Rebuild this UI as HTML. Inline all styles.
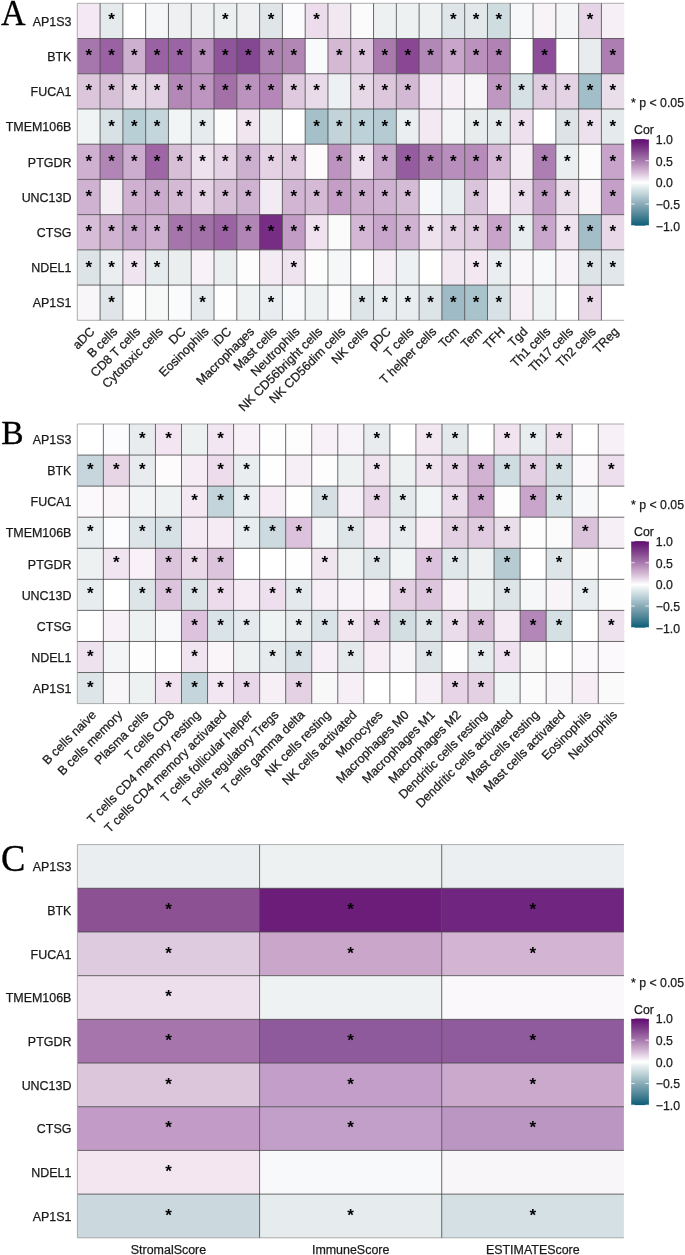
<!DOCTYPE html>
<html><head><meta charset="utf-8"><style>
html,body{margin:0;padding:0;background:#fff;}
body{width:685px;height:1255px;overflow:hidden;}
svg{display:block;will-change:transform;}
text{font-family:'Liberation Sans', sans-serif;fill:#1a1a1a;stroke:#1a1a1a;stroke-width:0.25px;}
.rl{font-size:12.45px;text-anchor:end;}
.cl{font-size:12.5px;text-anchor:end;}
.cc{font-size:12.45px;text-anchor:middle;}
.lg{font-size:12.3px;}
.st{font-size:17px;font-weight:bold;text-anchor:middle;fill:#000;stroke:none;}
.pl{font-family:'Liberation Serif', serif;font-size:34px;fill:#000;stroke:#000;stroke-width:0.3px;}
line{stroke:#444444;stroke-width:0.8;}
line.top{stroke:#9a9a9a;}
line.tk{stroke:#fff;stroke-width:0.8;}
</style></head><body>
<svg width="685" height="1255" viewBox="0 0 685 1255">
<defs><linearGradient id="cb" x1="0" y1="0" x2="0" y2="1"><stop offset="0.0%" stop-color="#5e0f6e"/><stop offset="4.0%" stop-color="#6a1c79"/><stop offset="12.5%" stop-color="#80408a"/><stop offset="25.0%" stop-color="#a87aae"/><stop offset="37.5%" stop-color="#d4b8d4"/><stop offset="50.0%" stop-color="#ffffff"/><stop offset="65.5%" stop-color="#b6cdd4"/><stop offset="75.0%" stop-color="#8aabb8"/><stop offset="87.5%" stop-color="#4f8597"/><stop offset="100.0%" stop-color="#0c5d77"/></linearGradient></defs>
<rect x="77.30" y="3.30" width="22.79" height="35.22" fill="#f3e8f3"/>
<rect x="100.09" y="3.30" width="22.79" height="35.22" fill="#e5eaec"/>
<rect x="122.88" y="3.30" width="22.79" height="35.22" fill="#ffffff"/>
<rect x="145.66" y="3.30" width="22.79" height="35.22" fill="#f5f6f7"/>
<rect x="168.45" y="3.30" width="22.79" height="35.22" fill="#eef0f1"/>
<rect x="191.24" y="3.30" width="22.79" height="35.22" fill="#eef0f1"/>
<rect x="214.03" y="3.30" width="22.79" height="35.22" fill="#eceff0"/>
<rect x="236.81" y="3.30" width="22.79" height="35.22" fill="#eef0f1"/>
<rect x="259.60" y="3.30" width="22.79" height="35.22" fill="#e0e6e8"/>
<rect x="282.39" y="3.30" width="22.79" height="35.22" fill="#fbfbfd"/>
<rect x="305.18" y="3.30" width="22.79" height="35.22" fill="#ecdcec"/>
<rect x="327.96" y="3.30" width="22.79" height="35.22" fill="#f2e8f2"/>
<rect x="350.75" y="3.30" width="22.79" height="35.22" fill="#fbfbfc"/>
<rect x="373.54" y="3.30" width="22.79" height="35.22" fill="#eef1f2"/>
<rect x="396.33" y="3.30" width="22.79" height="35.22" fill="#eef1f2"/>
<rect x="419.11" y="3.30" width="22.79" height="35.22" fill="#eef1f2"/>
<rect x="441.90" y="3.30" width="22.79" height="35.22" fill="#dfe6e9"/>
<rect x="464.69" y="3.30" width="22.79" height="35.22" fill="#e3e9eb"/>
<rect x="487.48" y="3.30" width="22.79" height="35.22" fill="#cfdde1"/>
<rect x="510.26" y="3.30" width="22.79" height="35.22" fill="#f7f8fa"/>
<rect x="533.05" y="3.30" width="22.79" height="35.22" fill="#f8f3f7"/>
<rect x="555.84" y="3.30" width="22.79" height="35.22" fill="#f4f5f6"/>
<rect x="578.63" y="3.30" width="22.79" height="35.22" fill="#e6d5e6"/>
<rect x="601.41" y="3.30" width="22.79" height="35.22" fill="#f6eff6"/>
<rect x="77.30" y="38.52" width="22.79" height="35.22" fill="#a577ac"/>
<rect x="100.09" y="38.52" width="22.79" height="35.22" fill="#9a62a3"/>
<rect x="122.88" y="38.52" width="22.79" height="35.22" fill="#cdafcf"/>
<rect x="145.66" y="38.52" width="22.79" height="35.22" fill="#9a62a3"/>
<rect x="168.45" y="38.52" width="22.79" height="35.22" fill="#9b64a4"/>
<rect x="191.24" y="38.52" width="22.79" height="35.22" fill="#b88ebc"/>
<rect x="214.03" y="38.52" width="22.79" height="35.22" fill="#8f5499"/>
<rect x="236.81" y="38.52" width="22.79" height="35.22" fill="#844892"/>
<rect x="259.60" y="38.52" width="22.79" height="35.22" fill="#ad81b2"/>
<rect x="282.39" y="38.52" width="22.79" height="35.22" fill="#b287b6"/>
<rect x="305.18" y="38.52" width="22.79" height="35.22" fill="#f8fafb"/>
<rect x="327.96" y="38.52" width="22.79" height="35.22" fill="#d4b8d4"/>
<rect x="350.75" y="38.52" width="22.79" height="35.22" fill="#dcc4dc"/>
<rect x="373.54" y="38.52" width="22.79" height="35.22" fill="#aa7aaf"/>
<rect x="396.33" y="38.52" width="22.79" height="35.22" fill="#8a4794"/>
<rect x="419.11" y="38.52" width="22.79" height="35.22" fill="#b188b6"/>
<rect x="441.90" y="38.52" width="22.79" height="35.22" fill="#c9a5cb"/>
<rect x="464.69" y="38.52" width="22.79" height="35.22" fill="#bb92be"/>
<rect x="487.48" y="38.52" width="22.79" height="35.22" fill="#b083b4"/>
<rect x="510.26" y="38.52" width="22.79" height="35.22" fill="#ffffff"/>
<rect x="533.05" y="38.52" width="22.79" height="35.22" fill="#8e4d99"/>
<rect x="555.84" y="38.52" width="22.79" height="35.22" fill="#ffffff"/>
<rect x="578.63" y="38.52" width="22.79" height="35.22" fill="#e8ecee"/>
<rect x="601.41" y="38.52" width="22.79" height="35.22" fill="#ac7eb1"/>
<rect x="77.30" y="73.74" width="22.79" height="35.22" fill="#dcc6dc"/>
<rect x="100.09" y="73.74" width="22.79" height="35.22" fill="#d8c0d8"/>
<rect x="122.88" y="73.74" width="22.79" height="35.22" fill="#e7d8e7"/>
<rect x="145.66" y="73.74" width="22.79" height="35.22" fill="#e3d2e3"/>
<rect x="168.45" y="73.74" width="22.79" height="35.22" fill="#b488b6"/>
<rect x="191.24" y="73.74" width="22.79" height="35.22" fill="#bd95c0"/>
<rect x="214.03" y="73.74" width="22.79" height="35.22" fill="#a370a8"/>
<rect x="236.81" y="73.74" width="22.79" height="35.22" fill="#bb93be"/>
<rect x="259.60" y="73.74" width="22.79" height="35.22" fill="#b587b9"/>
<rect x="282.39" y="73.74" width="22.79" height="35.22" fill="#dec9de"/>
<rect x="305.18" y="73.74" width="22.79" height="35.22" fill="#e9dbe9"/>
<rect x="327.96" y="73.74" width="22.79" height="35.22" fill="#eef1f3"/>
<rect x="350.75" y="73.74" width="22.79" height="35.22" fill="#e7d8e7"/>
<rect x="373.54" y="73.74" width="22.79" height="35.22" fill="#dcc7dc"/>
<rect x="396.33" y="73.74" width="22.79" height="35.22" fill="#d3b9d4"/>
<rect x="419.11" y="73.74" width="22.79" height="35.22" fill="#f3eaf3"/>
<rect x="441.90" y="73.74" width="22.79" height="35.22" fill="#f6eff6"/>
<rect x="464.69" y="73.74" width="22.79" height="35.22" fill="#f7f5f8"/>
<rect x="487.48" y="73.74" width="22.79" height="35.22" fill="#bf98c2"/>
<rect x="510.26" y="73.74" width="22.79" height="35.22" fill="#d6e1e5"/>
<rect x="533.05" y="73.74" width="22.79" height="35.22" fill="#e0cce1"/>
<rect x="555.84" y="73.74" width="22.79" height="35.22" fill="#e4d3e4"/>
<rect x="578.63" y="73.74" width="22.79" height="35.22" fill="#a2bec8"/>
<rect x="601.41" y="73.74" width="22.79" height="35.22" fill="#ebdeeb"/>
<rect x="77.30" y="108.97" width="22.79" height="35.22" fill="#f1f4f5"/>
<rect x="100.09" y="108.97" width="22.79" height="35.22" fill="#d8e1e6"/>
<rect x="122.88" y="108.97" width="22.79" height="35.22" fill="#b9cfd6"/>
<rect x="145.66" y="108.97" width="22.79" height="35.22" fill="#c4d6dc"/>
<rect x="168.45" y="108.97" width="22.79" height="35.22" fill="#f2f5f6"/>
<rect x="191.24" y="108.97" width="22.79" height="35.22" fill="#e6ebed"/>
<rect x="214.03" y="108.97" width="22.79" height="35.22" fill="#fcfcfd"/>
<rect x="236.81" y="108.97" width="22.79" height="35.22" fill="#f1e6f0"/>
<rect x="259.60" y="108.97" width="22.79" height="35.22" fill="#eef1f2"/>
<rect x="282.39" y="108.97" width="22.79" height="35.22" fill="#ffffff"/>
<rect x="305.18" y="108.97" width="22.79" height="35.22" fill="#a6c0c9"/>
<rect x="327.96" y="108.97" width="22.79" height="35.22" fill="#c2d4da"/>
<rect x="350.75" y="108.97" width="22.79" height="35.22" fill="#bdd1d8"/>
<rect x="373.54" y="108.97" width="22.79" height="35.22" fill="#b5cbd3"/>
<rect x="396.33" y="108.97" width="22.79" height="35.22" fill="#eaeef0"/>
<rect x="419.11" y="108.97" width="22.79" height="35.22" fill="#f3e9f2"/>
<rect x="441.90" y="108.97" width="22.79" height="35.22" fill="#f3f4f6"/>
<rect x="464.69" y="108.97" width="22.79" height="35.22" fill="#e8eced"/>
<rect x="487.48" y="108.97" width="22.79" height="35.22" fill="#e4e9ec"/>
<rect x="510.26" y="108.97" width="22.79" height="35.22" fill="#efe0ee"/>
<rect x="533.05" y="108.97" width="22.79" height="35.22" fill="#ffffff"/>
<rect x="555.84" y="108.97" width="22.79" height="35.22" fill="#dde3e7"/>
<rect x="578.63" y="108.97" width="22.79" height="35.22" fill="#eee1ee"/>
<rect x="601.41" y="108.97" width="22.79" height="35.22" fill="#e5eaec"/>
<rect x="77.30" y="144.19" width="22.79" height="35.22" fill="#cfb0d0"/>
<rect x="100.09" y="144.19" width="22.79" height="35.22" fill="#b185b6"/>
<rect x="122.88" y="144.19" width="22.79" height="35.22" fill="#cdadcf"/>
<rect x="145.66" y="144.19" width="22.79" height="35.22" fill="#9e66a5"/>
<rect x="168.45" y="144.19" width="22.79" height="35.22" fill="#d8bfd8"/>
<rect x="191.24" y="144.19" width="22.79" height="35.22" fill="#efe2ef"/>
<rect x="214.03" y="144.19" width="22.79" height="35.22" fill="#e5d3e5"/>
<rect x="236.81" y="144.19" width="22.79" height="35.22" fill="#cdafd0"/>
<rect x="259.60" y="144.19" width="22.79" height="35.22" fill="#e5d3e5"/>
<rect x="282.39" y="144.19" width="22.79" height="35.22" fill="#dfcadf"/>
<rect x="305.18" y="144.19" width="22.79" height="35.22" fill="#fefbfd"/>
<rect x="327.96" y="144.19" width="22.79" height="35.22" fill="#bd93c0"/>
<rect x="350.75" y="144.19" width="22.79" height="35.22" fill="#eddfed"/>
<rect x="373.54" y="144.19" width="22.79" height="35.22" fill="#c9a6cb"/>
<rect x="396.33" y="144.19" width="22.79" height="35.22" fill="#965ca0"/>
<rect x="419.11" y="144.19" width="22.79" height="35.22" fill="#ad80b2"/>
<rect x="441.90" y="144.19" width="22.79" height="35.22" fill="#b88fbc"/>
<rect x="464.69" y="144.19" width="22.79" height="35.22" fill="#b78cba"/>
<rect x="487.48" y="144.19" width="22.79" height="35.22" fill="#d4b8d5"/>
<rect x="510.26" y="144.19" width="22.79" height="35.22" fill="#f6eff6"/>
<rect x="533.05" y="144.19" width="22.79" height="35.22" fill="#ac7eb1"/>
<rect x="555.84" y="144.19" width="22.79" height="35.22" fill="#eaeef0"/>
<rect x="578.63" y="144.19" width="22.79" height="35.22" fill="#fbfbfc"/>
<rect x="601.41" y="144.19" width="22.79" height="35.22" fill="#c8a4ca"/>
<rect x="77.30" y="179.41" width="22.79" height="35.22" fill="#cfb2d1"/>
<rect x="100.09" y="179.41" width="22.79" height="35.22" fill="#f4edf4"/>
<rect x="122.88" y="179.41" width="22.79" height="35.22" fill="#cfb0d0"/>
<rect x="145.66" y="179.41" width="22.79" height="35.22" fill="#cbabcd"/>
<rect x="168.45" y="179.41" width="22.79" height="35.22" fill="#d5bad5"/>
<rect x="191.24" y="179.41" width="22.79" height="35.22" fill="#e5d2e5"/>
<rect x="214.03" y="179.41" width="22.79" height="35.22" fill="#d8bfd8"/>
<rect x="236.81" y="179.41" width="22.79" height="35.22" fill="#cfb1d1"/>
<rect x="259.60" y="179.41" width="22.79" height="35.22" fill="#f3ebf3"/>
<rect x="282.39" y="179.41" width="22.79" height="35.22" fill="#d2b5d3"/>
<rect x="305.18" y="179.41" width="22.79" height="35.22" fill="#d5bad5"/>
<rect x="327.96" y="179.41" width="22.79" height="35.22" fill="#c49ec6"/>
<rect x="350.75" y="179.41" width="22.79" height="35.22" fill="#cdaecf"/>
<rect x="373.54" y="179.41" width="22.79" height="35.22" fill="#cfb2d1"/>
<rect x="396.33" y="179.41" width="22.79" height="35.22" fill="#d5bcd6"/>
<rect x="419.11" y="179.41" width="22.79" height="35.22" fill="#f5f7f8"/>
<rect x="441.90" y="179.41" width="22.79" height="35.22" fill="#e9eef0"/>
<rect x="464.69" y="179.41" width="22.79" height="35.22" fill="#dac4db"/>
<rect x="487.48" y="179.41" width="22.79" height="35.22" fill="#f7f1f7"/>
<rect x="510.26" y="179.41" width="22.79" height="35.22" fill="#ebdceb"/>
<rect x="533.05" y="179.41" width="22.79" height="35.22" fill="#c29dc5"/>
<rect x="555.84" y="179.41" width="22.79" height="35.22" fill="#ebdeeb"/>
<rect x="578.63" y="179.41" width="22.79" height="35.22" fill="#f8f4f8"/>
<rect x="601.41" y="179.41" width="22.79" height="35.22" fill="#c49fc7"/>
<rect x="77.30" y="214.63" width="22.79" height="35.22" fill="#d7bdd7"/>
<rect x="100.09" y="214.63" width="22.79" height="35.22" fill="#d0b3d1"/>
<rect x="122.88" y="214.63" width="22.79" height="35.22" fill="#c8a5ca"/>
<rect x="145.66" y="214.63" width="22.79" height="35.22" fill="#cfb0d0"/>
<rect x="168.45" y="214.63" width="22.79" height="35.22" fill="#a675ab"/>
<rect x="191.24" y="214.63" width="22.79" height="35.22" fill="#a271a8"/>
<rect x="214.03" y="214.63" width="22.79" height="35.22" fill="#9b63a3"/>
<rect x="236.81" y="214.63" width="22.79" height="35.22" fill="#b185b5"/>
<rect x="259.60" y="214.63" width="22.79" height="35.22" fill="#782d85"/>
<rect x="282.39" y="214.63" width="22.79" height="35.22" fill="#c29cc5"/>
<rect x="305.18" y="214.63" width="22.79" height="35.22" fill="#f0e3ef"/>
<rect x="327.96" y="214.63" width="22.79" height="35.22" fill="#fbfbfc"/>
<rect x="350.75" y="214.63" width="22.79" height="35.22" fill="#d3b7d4"/>
<rect x="373.54" y="214.63" width="22.79" height="35.22" fill="#c8a5cb"/>
<rect x="396.33" y="214.63" width="22.79" height="35.22" fill="#d0b3d2"/>
<rect x="419.11" y="214.63" width="22.79" height="35.22" fill="#efe2ef"/>
<rect x="441.90" y="214.63" width="22.79" height="35.22" fill="#e3d0e3"/>
<rect x="464.69" y="214.63" width="22.79" height="35.22" fill="#dfcadf"/>
<rect x="487.48" y="214.63" width="22.79" height="35.22" fill="#c8a4ca"/>
<rect x="510.26" y="214.63" width="22.79" height="35.22" fill="#e8eef0"/>
<rect x="533.05" y="214.63" width="22.79" height="35.22" fill="#c9a6cb"/>
<rect x="555.84" y="214.63" width="22.79" height="35.22" fill="#f0e3f0"/>
<rect x="578.63" y="214.63" width="22.79" height="35.22" fill="#a3bec8"/>
<rect x="601.41" y="214.63" width="22.79" height="35.22" fill="#e8d8e8"/>
<rect x="77.30" y="249.86" width="22.79" height="35.22" fill="#dce4e8"/>
<rect x="100.09" y="249.86" width="22.79" height="35.22" fill="#eaeef0"/>
<rect x="122.88" y="249.86" width="22.79" height="35.22" fill="#f0e4f0"/>
<rect x="145.66" y="249.86" width="22.79" height="35.22" fill="#e6ebed"/>
<rect x="168.45" y="249.86" width="22.79" height="35.22" fill="#eaeeef"/>
<rect x="191.24" y="249.86" width="22.79" height="35.22" fill="#f8f1f7"/>
<rect x="214.03" y="249.86" width="22.79" height="35.22" fill="#ebeff0"/>
<rect x="236.81" y="249.86" width="22.79" height="35.22" fill="#fdfdfe"/>
<rect x="259.60" y="249.86" width="22.79" height="35.22" fill="#f4ecf4"/>
<rect x="282.39" y="249.86" width="22.79" height="35.22" fill="#f0e3f0"/>
<rect x="305.18" y="249.86" width="22.79" height="35.22" fill="#fdfdfe"/>
<rect x="327.96" y="249.86" width="22.79" height="35.22" fill="#f6f7f8"/>
<rect x="350.75" y="249.86" width="22.79" height="35.22" fill="#ffffff"/>
<rect x="373.54" y="249.86" width="22.79" height="35.22" fill="#f6eff6"/>
<rect x="396.33" y="249.86" width="22.79" height="35.22" fill="#eef1f3"/>
<rect x="419.11" y="249.86" width="22.79" height="35.22" fill="#ffffff"/>
<rect x="441.90" y="249.86" width="22.79" height="35.22" fill="#f2e8f2"/>
<rect x="464.69" y="249.86" width="22.79" height="35.22" fill="#f3e8f2"/>
<rect x="487.48" y="249.86" width="22.79" height="35.22" fill="#eaeef0"/>
<rect x="510.26" y="249.86" width="22.79" height="35.22" fill="#f9f6f9"/>
<rect x="533.05" y="249.86" width="22.79" height="35.22" fill="#f7f8f9"/>
<rect x="555.84" y="249.86" width="22.79" height="35.22" fill="#f8f3f8"/>
<rect x="578.63" y="249.86" width="22.79" height="35.22" fill="#dce4e8"/>
<rect x="601.41" y="249.86" width="22.79" height="35.22" fill="#e1e7ea"/>
<rect x="77.30" y="285.08" width="22.79" height="35.22" fill="#f9f6f9"/>
<rect x="100.09" y="285.08" width="22.79" height="35.22" fill="#dfe5e8"/>
<rect x="122.88" y="285.08" width="22.79" height="35.22" fill="#fdfdfe"/>
<rect x="145.66" y="285.08" width="22.79" height="35.22" fill="#f7f8f8"/>
<rect x="168.45" y="285.08" width="22.79" height="35.22" fill="#fafbfc"/>
<rect x="191.24" y="285.08" width="22.79" height="35.22" fill="#e5eaed"/>
<rect x="214.03" y="285.08" width="22.79" height="35.22" fill="#fefefe"/>
<rect x="236.81" y="285.08" width="22.79" height="35.22" fill="#eff2f3"/>
<rect x="259.60" y="285.08" width="22.79" height="35.22" fill="#e9edf0"/>
<rect x="282.39" y="285.08" width="22.79" height="35.22" fill="#f8f9fa"/>
<rect x="305.18" y="285.08" width="22.79" height="35.22" fill="#eff2f3"/>
<rect x="327.96" y="285.08" width="22.79" height="35.22" fill="#fcfcfd"/>
<rect x="350.75" y="285.08" width="22.79" height="35.22" fill="#dde5e8"/>
<rect x="373.54" y="285.08" width="22.79" height="35.22" fill="#e7ecee"/>
<rect x="396.33" y="285.08" width="22.79" height="35.22" fill="#e9edef"/>
<rect x="419.11" y="285.08" width="22.79" height="35.22" fill="#dce4e8"/>
<rect x="441.90" y="285.08" width="22.79" height="35.22" fill="#9fbbc5"/>
<rect x="464.69" y="285.08" width="22.79" height="35.22" fill="#a9c3cc"/>
<rect x="487.48" y="285.08" width="22.79" height="35.22" fill="#d8e2e6"/>
<rect x="510.26" y="285.08" width="22.79" height="35.22" fill="#f6eff6"/>
<rect x="533.05" y="285.08" width="22.79" height="35.22" fill="#f0f3f4"/>
<rect x="555.84" y="285.08" width="22.79" height="35.22" fill="#ffffff"/>
<rect x="578.63" y="285.08" width="22.79" height="35.22" fill="#e8d8e8"/>
<rect x="601.41" y="285.08" width="22.79" height="35.22" fill="#ffffff"/>
<line class="top" x1="77.30" y1="3.30" x2="624.20" y2="3.30"/>
<line x1="77.30" y1="38.52" x2="624.20" y2="38.52"/>
<line x1="77.30" y1="73.74" x2="624.20" y2="73.74"/>
<line x1="77.30" y1="108.97" x2="624.20" y2="108.97"/>
<line x1="77.30" y1="144.19" x2="624.20" y2="144.19"/>
<line x1="77.30" y1="179.41" x2="624.20" y2="179.41"/>
<line x1="77.30" y1="214.63" x2="624.20" y2="214.63"/>
<line x1="77.30" y1="249.86" x2="624.20" y2="249.86"/>
<line x1="77.30" y1="285.08" x2="624.20" y2="285.08"/>
<line class="top" x1="77.30" y1="320.30" x2="624.20" y2="320.30"/>
<line class="top" x1="77.30" y1="3.30" x2="77.30" y2="320.30"/>
<line x1="100.09" y1="3.30" x2="100.09" y2="320.30"/>
<line x1="122.88" y1="3.30" x2="122.88" y2="320.30"/>
<line x1="145.66" y1="3.30" x2="145.66" y2="320.30"/>
<line x1="168.45" y1="3.30" x2="168.45" y2="320.30"/>
<line x1="191.24" y1="3.30" x2="191.24" y2="320.30"/>
<line x1="214.03" y1="3.30" x2="214.03" y2="320.30"/>
<line x1="236.81" y1="3.30" x2="236.81" y2="320.30"/>
<line x1="259.60" y1="3.30" x2="259.60" y2="320.30"/>
<line x1="282.39" y1="3.30" x2="282.39" y2="320.30"/>
<line x1="305.18" y1="3.30" x2="305.18" y2="320.30"/>
<line x1="327.96" y1="3.30" x2="327.96" y2="320.30"/>
<line x1="350.75" y1="3.30" x2="350.75" y2="320.30"/>
<line x1="373.54" y1="3.30" x2="373.54" y2="320.30"/>
<line x1="396.33" y1="3.30" x2="396.33" y2="320.30"/>
<line x1="419.11" y1="3.30" x2="419.11" y2="320.30"/>
<line x1="441.90" y1="3.30" x2="441.90" y2="320.30"/>
<line x1="464.69" y1="3.30" x2="464.69" y2="320.30"/>
<line x1="487.48" y1="3.30" x2="487.48" y2="320.30"/>
<line x1="510.26" y1="3.30" x2="510.26" y2="320.30"/>
<line x1="533.05" y1="3.30" x2="533.05" y2="320.30"/>
<line x1="555.84" y1="3.30" x2="555.84" y2="320.30"/>
<line x1="578.63" y1="3.30" x2="578.63" y2="320.30"/>
<line x1="601.41" y1="3.30" x2="601.41" y2="320.30"/>
<text class="st" x="111.48" y="25.11">*</text>
<text class="st" x="225.42" y="25.11">*</text>
<text class="st" x="270.99" y="25.11">*</text>
<text class="st" x="316.57" y="25.11">*</text>
<text class="st" x="453.29" y="25.11">*</text>
<text class="st" x="476.08" y="25.11">*</text>
<text class="st" x="498.87" y="25.11">*</text>
<text class="st" x="590.02" y="25.11">*</text>
<text class="st" x="88.69" y="61.23">*</text>
<text class="st" x="111.48" y="61.23">*</text>
<text class="st" x="134.27" y="61.23">*</text>
<text class="st" x="157.06" y="61.23">*</text>
<text class="st" x="179.84" y="61.23">*</text>
<text class="st" x="202.63" y="61.23">*</text>
<text class="st" x="225.42" y="61.23">*</text>
<text class="st" x="248.21" y="61.23">*</text>
<text class="st" x="270.99" y="61.23">*</text>
<text class="st" x="293.78" y="61.23">*</text>
<text class="st" x="339.36" y="61.23">*</text>
<text class="st" x="362.14" y="61.23">*</text>
<text class="st" x="384.93" y="61.23">*</text>
<text class="st" x="407.72" y="61.23">*</text>
<text class="st" x="430.51" y="61.23">*</text>
<text class="st" x="453.29" y="61.23">*</text>
<text class="st" x="476.08" y="61.23">*</text>
<text class="st" x="498.87" y="61.23">*</text>
<text class="st" x="544.44" y="61.23">*</text>
<text class="st" x="612.81" y="61.23">*</text>
<text class="st" x="88.69" y="96.46">*</text>
<text class="st" x="111.48" y="96.46">*</text>
<text class="st" x="134.27" y="96.46">*</text>
<text class="st" x="157.06" y="96.46">*</text>
<text class="st" x="179.84" y="96.46">*</text>
<text class="st" x="202.63" y="96.46">*</text>
<text class="st" x="225.42" y="96.46">*</text>
<text class="st" x="248.21" y="96.46">*</text>
<text class="st" x="270.99" y="96.46">*</text>
<text class="st" x="293.78" y="96.46">*</text>
<text class="st" x="316.57" y="96.46">*</text>
<text class="st" x="362.14" y="96.46">*</text>
<text class="st" x="384.93" y="96.46">*</text>
<text class="st" x="407.72" y="96.46">*</text>
<text class="st" x="498.87" y="96.46">*</text>
<text class="st" x="521.66" y="96.46">*</text>
<text class="st" x="544.44" y="96.46">*</text>
<text class="st" x="567.23" y="96.46">*</text>
<text class="st" x="590.02" y="96.46">*</text>
<text class="st" x="612.81" y="96.46">*</text>
<text class="st" x="111.48" y="131.68">*</text>
<text class="st" x="134.27" y="131.68">*</text>
<text class="st" x="157.06" y="131.68">*</text>
<text class="st" x="202.63" y="131.68">*</text>
<text class="st" x="248.21" y="131.68">*</text>
<text class="st" x="316.57" y="131.68">*</text>
<text class="st" x="339.36" y="131.68">*</text>
<text class="st" x="362.14" y="131.68">*</text>
<text class="st" x="384.93" y="131.68">*</text>
<text class="st" x="407.72" y="131.68">*</text>
<text class="st" x="476.08" y="131.68">*</text>
<text class="st" x="498.87" y="131.68">*</text>
<text class="st" x="521.66" y="131.68">*</text>
<text class="st" x="567.23" y="131.68">*</text>
<text class="st" x="590.02" y="131.68">*</text>
<text class="st" x="612.81" y="131.68">*</text>
<text class="st" x="88.69" y="166.90">*</text>
<text class="st" x="111.48" y="166.90">*</text>
<text class="st" x="134.27" y="166.90">*</text>
<text class="st" x="157.06" y="166.90">*</text>
<text class="st" x="179.84" y="166.90">*</text>
<text class="st" x="202.63" y="166.90">*</text>
<text class="st" x="225.42" y="166.90">*</text>
<text class="st" x="248.21" y="166.90">*</text>
<text class="st" x="270.99" y="166.90">*</text>
<text class="st" x="293.78" y="166.90">*</text>
<text class="st" x="339.36" y="166.90">*</text>
<text class="st" x="362.14" y="166.90">*</text>
<text class="st" x="384.93" y="166.90">*</text>
<text class="st" x="407.72" y="166.90">*</text>
<text class="st" x="430.51" y="166.90">*</text>
<text class="st" x="453.29" y="166.90">*</text>
<text class="st" x="476.08" y="166.90">*</text>
<text class="st" x="498.87" y="166.90">*</text>
<text class="st" x="544.44" y="166.90">*</text>
<text class="st" x="567.23" y="166.90">*</text>
<text class="st" x="612.81" y="166.90">*</text>
<text class="st" x="88.69" y="202.12">*</text>
<text class="st" x="134.27" y="202.12">*</text>
<text class="st" x="157.06" y="202.12">*</text>
<text class="st" x="179.84" y="202.12">*</text>
<text class="st" x="202.63" y="202.12">*</text>
<text class="st" x="225.42" y="202.12">*</text>
<text class="st" x="248.21" y="202.12">*</text>
<text class="st" x="293.78" y="202.12">*</text>
<text class="st" x="316.57" y="202.12">*</text>
<text class="st" x="339.36" y="202.12">*</text>
<text class="st" x="362.14" y="202.12">*</text>
<text class="st" x="384.93" y="202.12">*</text>
<text class="st" x="407.72" y="202.12">*</text>
<text class="st" x="476.08" y="202.12">*</text>
<text class="st" x="521.66" y="202.12">*</text>
<text class="st" x="544.44" y="202.12">*</text>
<text class="st" x="567.23" y="202.12">*</text>
<text class="st" x="612.81" y="202.12">*</text>
<text class="st" x="88.69" y="237.34">*</text>
<text class="st" x="111.48" y="237.34">*</text>
<text class="st" x="134.27" y="237.34">*</text>
<text class="st" x="157.06" y="237.34">*</text>
<text class="st" x="179.84" y="237.34">*</text>
<text class="st" x="202.63" y="237.34">*</text>
<text class="st" x="225.42" y="237.34">*</text>
<text class="st" x="248.21" y="237.34">*</text>
<text class="st" x="270.99" y="237.34">*</text>
<text class="st" x="293.78" y="237.34">*</text>
<text class="st" x="316.57" y="237.34">*</text>
<text class="st" x="362.14" y="237.34">*</text>
<text class="st" x="384.93" y="237.34">*</text>
<text class="st" x="407.72" y="237.34">*</text>
<text class="st" x="430.51" y="237.34">*</text>
<text class="st" x="453.29" y="237.34">*</text>
<text class="st" x="476.08" y="237.34">*</text>
<text class="st" x="498.87" y="237.34">*</text>
<text class="st" x="521.66" y="237.34">*</text>
<text class="st" x="544.44" y="237.34">*</text>
<text class="st" x="567.23" y="237.34">*</text>
<text class="st" x="590.02" y="237.34">*</text>
<text class="st" x="612.81" y="237.34">*</text>
<text class="st" x="88.69" y="272.57">*</text>
<text class="st" x="111.48" y="272.57">*</text>
<text class="st" x="134.27" y="272.57">*</text>
<text class="st" x="157.06" y="272.57">*</text>
<text class="st" x="293.78" y="272.57">*</text>
<text class="st" x="476.08" y="272.57">*</text>
<text class="st" x="498.87" y="272.57">*</text>
<text class="st" x="590.02" y="272.57">*</text>
<text class="st" x="612.81" y="272.57">*</text>
<text class="st" x="111.48" y="307.79">*</text>
<text class="st" x="202.63" y="307.79">*</text>
<text class="st" x="270.99" y="307.79">*</text>
<text class="st" x="362.14" y="307.79">*</text>
<text class="st" x="384.93" y="307.79">*</text>
<text class="st" x="407.72" y="307.79">*</text>
<text class="st" x="430.51" y="307.79">*</text>
<text class="st" x="453.29" y="307.79">*</text>
<text class="st" x="476.08" y="307.79">*</text>
<text class="st" x="498.87" y="307.79">*</text>
<text class="st" x="590.02" y="307.79">*</text>
<text class="rl" x="71.4" y="25.61">AP1S3</text>
<text class="rl" x="71.4" y="60.83">BTK</text>
<text class="rl" x="71.4" y="96.06">FUCA1</text>
<text class="rl" x="71.4" y="131.28">TMEM106B</text>
<text class="rl" x="71.4" y="166.50">PTGDR</text>
<text class="rl" x="71.4" y="201.72">UNC13D</text>
<text class="rl" x="71.4" y="236.94">CTSG</text>
<text class="rl" x="71.4" y="272.17">NDEL1</text>
<text class="rl" x="71.4" y="307.39">AP1S1</text>
<text class="cl" transform="translate(95.39,332.30) rotate(-45)">aDC</text>
<text class="cl" transform="translate(118.18,332.30) rotate(-45)">B cells</text>
<text class="cl" transform="translate(140.97,332.30) rotate(-45)">CD8 T cells</text>
<text class="cl" transform="translate(163.76,332.30) rotate(-45)">Cytotoxic cells</text>
<text class="cl" transform="translate(186.54,332.30) rotate(-45)">DC</text>
<text class="cl" transform="translate(209.33,332.30) rotate(-45)">Eosinophils</text>
<text class="cl" transform="translate(232.12,332.30) rotate(-45)">iDC</text>
<text class="cl" transform="translate(254.91,332.30) rotate(-45)">Macrophages</text>
<text class="cl" transform="translate(277.69,332.30) rotate(-45)">Mast cells</text>
<text class="cl" transform="translate(300.48,332.30) rotate(-45)">Neutrophils</text>
<text class="cl" transform="translate(323.27,332.30) rotate(-45)">NK CD56bright cells</text>
<text class="cl" transform="translate(346.06,332.30) rotate(-45)">NK CD56dim cells</text>
<text class="cl" transform="translate(368.84,332.30) rotate(-45)">NK cells</text>
<text class="cl" transform="translate(391.63,332.30) rotate(-45)">pDC</text>
<text class="cl" transform="translate(414.42,332.30) rotate(-45)">T cells</text>
<text class="cl" transform="translate(437.21,332.30) rotate(-45)">T helper cells</text>
<text class="cl" transform="translate(459.99,332.30) rotate(-45)">Tcm</text>
<text class="cl" transform="translate(482.78,332.30) rotate(-45)">Tem</text>
<text class="cl" transform="translate(505.57,332.30) rotate(-45)">TFH</text>
<text class="cl" transform="translate(528.36,332.30) rotate(-45)">Tgd</text>
<text class="cl" transform="translate(551.14,332.30) rotate(-45)">Th1 cells</text>
<text class="cl" transform="translate(573.93,332.30) rotate(-45)">Th17 cells</text>
<text class="cl" transform="translate(596.72,332.30) rotate(-45)">Th2 cells</text>
<text class="cl" transform="translate(619.51,332.30) rotate(-45)">TReg</text>
<text class="pl" transform="translate(1.0,25.1) scale(1,1.06)" style="font-size:34px">A</text>
<text class="lg" x="631.0" y="106.80">* p &lt; 0.05</text>
<text class="lg" x="634.0" y="133.80">Cor</text>
<rect x="631.2" y="139.10" width="17.7" height="86.6" fill="url(#cb)"/>
<text class="lg" x="655.8" y="144.00">1.0</text>
<line class="tk" x1="631.2" y1="139.10" x2="634.7" y2="139.10"/>
<line class="tk" x1="645.4000000000001" y1="139.10" x2="648.9000000000001" y2="139.10"/>
<text class="lg" x="655.8" y="165.65">0.5</text>
<line class="tk" x1="631.2" y1="160.75" x2="634.7" y2="160.75"/>
<line class="tk" x1="645.4000000000001" y1="160.75" x2="648.9000000000001" y2="160.75"/>
<text class="lg" x="655.8" y="187.30">0.0</text>
<line class="tk" x1="631.2" y1="182.40" x2="634.7" y2="182.40"/>
<line class="tk" x1="645.4000000000001" y1="182.40" x2="648.9000000000001" y2="182.40"/>
<text class="lg" x="655.8" y="208.95">−0.5</text>
<line class="tk" x1="631.2" y1="204.05" x2="634.7" y2="204.05"/>
<line class="tk" x1="645.4000000000001" y1="204.05" x2="648.9000000000001" y2="204.05"/>
<text class="lg" x="655.8" y="230.60">−1.0</text>
<line class="tk" x1="631.2" y1="225.70" x2="634.7" y2="225.70"/>
<line class="tk" x1="645.4000000000001" y1="225.70" x2="648.9000000000001" y2="225.70"/>
<rect x="77.30" y="424.00" width="26.05" height="31.07" fill="#ffffff"/>
<rect x="103.35" y="424.00" width="26.05" height="31.07" fill="#fcfcfe"/>
<rect x="129.40" y="424.00" width="26.05" height="31.07" fill="#e8ecee"/>
<rect x="155.44" y="424.00" width="26.05" height="31.07" fill="#f3e6f2"/>
<rect x="181.49" y="424.00" width="26.05" height="31.07" fill="#eef1f2"/>
<rect x="207.54" y="424.00" width="26.05" height="31.07" fill="#f2e6f2"/>
<rect x="233.59" y="424.00" width="26.05" height="31.07" fill="#f8f1f7"/>
<rect x="259.63" y="424.00" width="26.05" height="31.07" fill="#fefefe"/>
<rect x="285.68" y="424.00" width="26.05" height="31.07" fill="#fdfdfe"/>
<rect x="311.73" y="424.00" width="26.05" height="31.07" fill="#f8f1f8"/>
<rect x="337.78" y="424.00" width="26.05" height="31.07" fill="#f8f3f8"/>
<rect x="363.82" y="424.00" width="26.05" height="31.07" fill="#e8ecee"/>
<rect x="389.87" y="424.00" width="26.05" height="31.07" fill="#ffffff"/>
<rect x="415.92" y="424.00" width="26.05" height="31.07" fill="#f3e7f2"/>
<rect x="441.97" y="424.00" width="26.05" height="31.07" fill="#e4e9ec"/>
<rect x="468.01" y="424.00" width="26.05" height="31.07" fill="#ffffff"/>
<rect x="494.06" y="424.00" width="26.05" height="31.07" fill="#f1e4f0"/>
<rect x="520.11" y="424.00" width="26.05" height="31.07" fill="#e8eeef"/>
<rect x="546.16" y="424.00" width="26.05" height="31.07" fill="#efe1ee"/>
<rect x="572.20" y="424.00" width="26.05" height="31.07" fill="#ffffff"/>
<rect x="598.25" y="424.00" width="26.05" height="31.07" fill="#f7f1f7"/>
<rect x="77.30" y="455.07" width="26.05" height="31.07" fill="#c6d6dc"/>
<rect x="103.35" y="455.07" width="26.05" height="31.07" fill="#e7d5e6"/>
<rect x="129.40" y="455.07" width="26.05" height="31.07" fill="#e8ecef"/>
<rect x="155.44" y="455.07" width="26.05" height="31.07" fill="#fefbfd"/>
<rect x="181.49" y="455.07" width="26.05" height="31.07" fill="#f6ecf5"/>
<rect x="207.54" y="455.07" width="26.05" height="31.07" fill="#ecdcec"/>
<rect x="233.59" y="455.07" width="26.05" height="31.07" fill="#e9edef"/>
<rect x="259.63" y="455.07" width="26.05" height="31.07" fill="#fefefe"/>
<rect x="285.68" y="455.07" width="26.05" height="31.07" fill="#f7eff6"/>
<rect x="311.73" y="455.07" width="26.05" height="31.07" fill="#fdfdfe"/>
<rect x="337.78" y="455.07" width="26.05" height="31.07" fill="#eef1f2"/>
<rect x="363.82" y="455.07" width="26.05" height="31.07" fill="#efe3ef"/>
<rect x="389.87" y="455.07" width="26.05" height="31.07" fill="#eef1f2"/>
<rect x="415.92" y="455.07" width="26.05" height="31.07" fill="#efe3ef"/>
<rect x="441.97" y="455.07" width="26.05" height="31.07" fill="#e6d4e6"/>
<rect x="468.01" y="455.07" width="26.05" height="31.07" fill="#d1b2d2"/>
<rect x="494.06" y="455.07" width="26.05" height="31.07" fill="#cfdce1"/>
<rect x="520.11" y="455.07" width="26.05" height="31.07" fill="#e3cfe3"/>
<rect x="546.16" y="455.07" width="26.05" height="31.07" fill="#d4e0e4"/>
<rect x="572.20" y="455.07" width="26.05" height="31.07" fill="#fbf8fb"/>
<rect x="598.25" y="455.07" width="26.05" height="31.07" fill="#eddfed"/>
<rect x="77.30" y="486.13" width="26.05" height="31.07" fill="#fcf9fc"/>
<rect x="103.35" y="486.13" width="26.05" height="31.07" fill="#f9f5f9"/>
<rect x="129.40" y="486.13" width="26.05" height="31.07" fill="#f2f4f6"/>
<rect x="155.44" y="486.13" width="26.05" height="31.07" fill="#eff2f3"/>
<rect x="181.49" y="486.13" width="26.05" height="31.07" fill="#f4e9f3"/>
<rect x="207.54" y="486.13" width="26.05" height="31.07" fill="#c3d4da"/>
<rect x="233.59" y="486.13" width="26.05" height="31.07" fill="#e9eef0"/>
<rect x="259.63" y="486.13" width="26.05" height="31.07" fill="#f6ecf5"/>
<rect x="285.68" y="486.13" width="26.05" height="31.07" fill="#fefefe"/>
<rect x="311.73" y="486.13" width="26.05" height="31.07" fill="#d6e0e4"/>
<rect x="337.78" y="486.13" width="26.05" height="31.07" fill="#f7eff7"/>
<rect x="363.82" y="486.13" width="26.05" height="31.07" fill="#e6d4e6"/>
<rect x="389.87" y="486.13" width="26.05" height="31.07" fill="#e4e9ec"/>
<rect x="415.92" y="486.13" width="26.05" height="31.07" fill="#f2f5f5"/>
<rect x="441.97" y="486.13" width="26.05" height="31.07" fill="#ebdceb"/>
<rect x="468.01" y="486.13" width="26.05" height="31.07" fill="#cca9cd"/>
<rect x="494.06" y="486.13" width="26.05" height="31.07" fill="#fdfdfe"/>
<rect x="520.11" y="486.13" width="26.05" height="31.07" fill="#c9a5cb"/>
<rect x="546.16" y="486.13" width="26.05" height="31.07" fill="#d6e1e5"/>
<rect x="572.20" y="486.13" width="26.05" height="31.07" fill="#f7f8f9"/>
<rect x="598.25" y="486.13" width="26.05" height="31.07" fill="#ffffff"/>
<rect x="77.30" y="517.20" width="26.05" height="31.07" fill="#e8edef"/>
<rect x="103.35" y="517.20" width="26.05" height="31.07" fill="#fcfcfe"/>
<rect x="129.40" y="517.20" width="26.05" height="31.07" fill="#dee5e8"/>
<rect x="155.44" y="517.20" width="26.05" height="31.07" fill="#d6e1e5"/>
<rect x="181.49" y="517.20" width="26.05" height="31.07" fill="#f5ebf4"/>
<rect x="207.54" y="517.20" width="26.05" height="31.07" fill="#f5ebf4"/>
<rect x="233.59" y="517.20" width="26.05" height="31.07" fill="#e8edef"/>
<rect x="259.63" y="517.20" width="26.05" height="31.07" fill="#cddbe0"/>
<rect x="285.68" y="517.20" width="26.05" height="31.07" fill="#dcc2dc"/>
<rect x="311.73" y="517.20" width="26.05" height="31.07" fill="#f3f5f6"/>
<rect x="337.78" y="517.20" width="26.05" height="31.07" fill="#dee5e8"/>
<rect x="363.82" y="517.20" width="26.05" height="31.07" fill="#f5ebf4"/>
<rect x="389.87" y="517.20" width="26.05" height="31.07" fill="#e8ecef"/>
<rect x="415.92" y="517.20" width="26.05" height="31.07" fill="#f6edf5"/>
<rect x="441.97" y="517.20" width="26.05" height="31.07" fill="#e3d0e3"/>
<rect x="468.01" y="517.20" width="26.05" height="31.07" fill="#e0cbe0"/>
<rect x="494.06" y="517.20" width="26.05" height="31.07" fill="#ebdeeb"/>
<rect x="520.11" y="517.20" width="26.05" height="31.07" fill="#fdfdfe"/>
<rect x="546.16" y="517.20" width="26.05" height="31.07" fill="#fbfbfc"/>
<rect x="572.20" y="517.20" width="26.05" height="31.07" fill="#dcc3dc"/>
<rect x="598.25" y="517.20" width="26.05" height="31.07" fill="#f6f0f6"/>
<rect x="77.30" y="548.27" width="26.05" height="31.07" fill="#eef1f2"/>
<rect x="103.35" y="548.27" width="26.05" height="31.07" fill="#f1e5f1"/>
<rect x="129.40" y="548.27" width="26.05" height="31.07" fill="#f8f1f7"/>
<rect x="155.44" y="548.27" width="26.05" height="31.07" fill="#dcc4dc"/>
<rect x="181.49" y="548.27" width="26.05" height="31.07" fill="#ead9e9"/>
<rect x="207.54" y="548.27" width="26.05" height="31.07" fill="#dcc4dc"/>
<rect x="233.59" y="548.27" width="26.05" height="31.07" fill="#ffffff"/>
<rect x="259.63" y="548.27" width="26.05" height="31.07" fill="#ffffff"/>
<rect x="285.68" y="548.27" width="26.05" height="31.07" fill="#fefefe"/>
<rect x="311.73" y="548.27" width="26.05" height="31.07" fill="#f1e5f0"/>
<rect x="337.78" y="548.27" width="26.05" height="31.07" fill="#eef1f2"/>
<rect x="363.82" y="548.27" width="26.05" height="31.07" fill="#dee5e8"/>
<rect x="389.87" y="548.27" width="26.05" height="31.07" fill="#f1f4f5"/>
<rect x="415.92" y="548.27" width="26.05" height="31.07" fill="#dcc2dc"/>
<rect x="441.97" y="548.27" width="26.05" height="31.07" fill="#e0e7ea"/>
<rect x="468.01" y="548.27" width="26.05" height="31.07" fill="#eef1f2"/>
<rect x="494.06" y="548.27" width="26.05" height="31.07" fill="#b7cbd2"/>
<rect x="520.11" y="548.27" width="26.05" height="31.07" fill="#ffffff"/>
<rect x="546.16" y="548.27" width="26.05" height="31.07" fill="#dde5e8"/>
<rect x="572.20" y="548.27" width="26.05" height="31.07" fill="#fcfcfd"/>
<rect x="598.25" y="548.27" width="26.05" height="31.07" fill="#ffffff"/>
<rect x="77.30" y="579.33" width="26.05" height="31.07" fill="#e7ecee"/>
<rect x="103.35" y="579.33" width="26.05" height="31.07" fill="#ffffff"/>
<rect x="129.40" y="579.33" width="26.05" height="31.07" fill="#dee5e8"/>
<rect x="155.44" y="579.33" width="26.05" height="31.07" fill="#dcc4dc"/>
<rect x="181.49" y="579.33" width="26.05" height="31.07" fill="#dbe3e7"/>
<rect x="207.54" y="579.33" width="26.05" height="31.07" fill="#ebdbeb"/>
<rect x="233.59" y="579.33" width="26.05" height="31.07" fill="#f5ebf4"/>
<rect x="259.63" y="579.33" width="26.05" height="31.07" fill="#eddfed"/>
<rect x="285.68" y="579.33" width="26.05" height="31.07" fill="#e3e9ec"/>
<rect x="311.73" y="579.33" width="26.05" height="31.07" fill="#f6eff6"/>
<rect x="337.78" y="579.33" width="26.05" height="31.07" fill="#f8f3f8"/>
<rect x="363.82" y="579.33" width="26.05" height="31.07" fill="#f9f5f9"/>
<rect x="389.87" y="579.33" width="26.05" height="31.07" fill="#e3d0e3"/>
<rect x="415.92" y="579.33" width="26.05" height="31.07" fill="#ddc6dd"/>
<rect x="441.97" y="579.33" width="26.05" height="31.07" fill="#f7f1f7"/>
<rect x="468.01" y="579.33" width="26.05" height="31.07" fill="#eef1f2"/>
<rect x="494.06" y="579.33" width="26.05" height="31.07" fill="#dde5e8"/>
<rect x="520.11" y="579.33" width="26.05" height="31.07" fill="#f6f7f8"/>
<rect x="546.16" y="579.33" width="26.05" height="31.07" fill="#f8f4f8"/>
<rect x="572.20" y="579.33" width="26.05" height="31.07" fill="#e8edef"/>
<rect x="598.25" y="579.33" width="26.05" height="31.07" fill="#fdfdfe"/>
<rect x="77.30" y="610.40" width="26.05" height="31.07" fill="#ffffff"/>
<rect x="103.35" y="610.40" width="26.05" height="31.07" fill="#f8f1f7"/>
<rect x="129.40" y="610.40" width="26.05" height="31.07" fill="#eef1f2"/>
<rect x="155.44" y="610.40" width="26.05" height="31.07" fill="#f8f8fa"/>
<rect x="181.49" y="610.40" width="26.05" height="31.07" fill="#dcc2dc"/>
<rect x="207.54" y="610.40" width="26.05" height="31.07" fill="#dae3e7"/>
<rect x="233.59" y="610.40" width="26.05" height="31.07" fill="#e3e9ec"/>
<rect x="259.63" y="610.40" width="26.05" height="31.07" fill="#f0f3f4"/>
<rect x="285.68" y="610.40" width="26.05" height="31.07" fill="#e8ecee"/>
<rect x="311.73" y="610.40" width="26.05" height="31.07" fill="#dae3e7"/>
<rect x="337.78" y="610.40" width="26.05" height="31.07" fill="#f1e6f0"/>
<rect x="363.82" y="610.40" width="26.05" height="31.07" fill="#e6d4e6"/>
<rect x="389.87" y="610.40" width="26.05" height="31.07" fill="#d2dee2"/>
<rect x="415.92" y="610.40" width="26.05" height="31.07" fill="#dde5e8"/>
<rect x="441.97" y="610.40" width="26.05" height="31.07" fill="#ebdceb"/>
<rect x="468.01" y="610.40" width="26.05" height="31.07" fill="#d6bcd7"/>
<rect x="494.06" y="610.40" width="26.05" height="31.07" fill="#f4eaf3"/>
<rect x="520.11" y="610.40" width="26.05" height="31.07" fill="#b387b7"/>
<rect x="546.16" y="610.40" width="26.05" height="31.07" fill="#d4e0e4"/>
<rect x="572.20" y="610.40" width="26.05" height="31.07" fill="#ffffff"/>
<rect x="598.25" y="610.40" width="26.05" height="31.07" fill="#efe2ef"/>
<rect x="77.30" y="641.47" width="26.05" height="31.07" fill="#efe2ef"/>
<rect x="103.35" y="641.47" width="26.05" height="31.07" fill="#f3f5f6"/>
<rect x="129.40" y="641.47" width="26.05" height="31.07" fill="#fdfdfe"/>
<rect x="155.44" y="641.47" width="26.05" height="31.07" fill="#ffffff"/>
<rect x="181.49" y="641.47" width="26.05" height="31.07" fill="#f0e4f0"/>
<rect x="207.54" y="641.47" width="26.05" height="31.07" fill="#f9f5f9"/>
<rect x="233.59" y="641.47" width="26.05" height="31.07" fill="#eef1f2"/>
<rect x="259.63" y="641.47" width="26.05" height="31.07" fill="#e6ebed"/>
<rect x="285.68" y="641.47" width="26.05" height="31.07" fill="#d8e2e6"/>
<rect x="311.73" y="641.47" width="26.05" height="31.07" fill="#f7eff7"/>
<rect x="337.78" y="641.47" width="26.05" height="31.07" fill="#e4e9ec"/>
<rect x="363.82" y="641.47" width="26.05" height="31.07" fill="#f6edf5"/>
<rect x="389.87" y="641.47" width="26.05" height="31.07" fill="#f8f5f8"/>
<rect x="415.92" y="641.47" width="26.05" height="31.07" fill="#dde5e8"/>
<rect x="441.97" y="641.47" width="26.05" height="31.07" fill="#fefefe"/>
<rect x="468.01" y="641.47" width="26.05" height="31.07" fill="#e6ebed"/>
<rect x="494.06" y="641.47" width="26.05" height="31.07" fill="#efe1ef"/>
<rect x="520.11" y="641.47" width="26.05" height="31.07" fill="#f8f8f9"/>
<rect x="546.16" y="641.47" width="26.05" height="31.07" fill="#ffffff"/>
<rect x="572.20" y="641.47" width="26.05" height="31.07" fill="#fbf9fb"/>
<rect x="598.25" y="641.47" width="26.05" height="31.07" fill="#fbf9fb"/>
<rect x="77.30" y="672.53" width="26.05" height="31.07" fill="#dde5e8"/>
<rect x="103.35" y="672.53" width="26.05" height="31.07" fill="#f9f6f9"/>
<rect x="129.40" y="672.53" width="26.05" height="31.07" fill="#eef1f2"/>
<rect x="155.44" y="672.53" width="26.05" height="31.07" fill="#f0e3ef"/>
<rect x="181.49" y="672.53" width="26.05" height="31.07" fill="#c4d5db"/>
<rect x="207.54" y="672.53" width="26.05" height="31.07" fill="#f1e6f1"/>
<rect x="233.59" y="672.53" width="26.05" height="31.07" fill="#e8d7e8"/>
<rect x="259.63" y="672.53" width="26.05" height="31.07" fill="#f7eff6"/>
<rect x="285.68" y="672.53" width="26.05" height="31.07" fill="#e4d2e4"/>
<rect x="311.73" y="672.53" width="26.05" height="31.07" fill="#f8f8f9"/>
<rect x="337.78" y="672.53" width="26.05" height="31.07" fill="#f6eff6"/>
<rect x="363.82" y="672.53" width="26.05" height="31.07" fill="#ffffff"/>
<rect x="389.87" y="672.53" width="26.05" height="31.07" fill="#ffffff"/>
<rect x="415.92" y="672.53" width="26.05" height="31.07" fill="#f6eff6"/>
<rect x="441.97" y="672.53" width="26.05" height="31.07" fill="#e7d5e7"/>
<rect x="468.01" y="672.53" width="26.05" height="31.07" fill="#e3d0e3"/>
<rect x="494.06" y="672.53" width="26.05" height="31.07" fill="#f1f4f5"/>
<rect x="520.11" y="672.53" width="26.05" height="31.07" fill="#fbfbfc"/>
<rect x="546.16" y="672.53" width="26.05" height="31.07" fill="#f9f6f9"/>
<rect x="572.20" y="672.53" width="26.05" height="31.07" fill="#f6edf5"/>
<rect x="598.25" y="672.53" width="26.05" height="31.07" fill="#fafafb"/>
<line class="top" x1="77.30" y1="424.00" x2="624.30" y2="424.00"/>
<line x1="77.30" y1="455.07" x2="624.30" y2="455.07"/>
<line x1="77.30" y1="486.13" x2="624.30" y2="486.13"/>
<line x1="77.30" y1="517.20" x2="624.30" y2="517.20"/>
<line x1="77.30" y1="548.27" x2="624.30" y2="548.27"/>
<line x1="77.30" y1="579.33" x2="624.30" y2="579.33"/>
<line x1="77.30" y1="610.40" x2="624.30" y2="610.40"/>
<line x1="77.30" y1="641.47" x2="624.30" y2="641.47"/>
<line x1="77.30" y1="672.53" x2="624.30" y2="672.53"/>
<line class="top" x1="77.30" y1="703.60" x2="624.30" y2="703.60"/>
<line class="top" x1="77.30" y1="424.00" x2="77.30" y2="703.60"/>
<line x1="103.35" y1="424.00" x2="103.35" y2="703.60"/>
<line x1="129.40" y1="424.00" x2="129.40" y2="703.60"/>
<line x1="155.44" y1="424.00" x2="155.44" y2="703.60"/>
<line x1="181.49" y1="424.00" x2="181.49" y2="703.60"/>
<line x1="207.54" y1="424.00" x2="207.54" y2="703.60"/>
<line x1="233.59" y1="424.00" x2="233.59" y2="703.60"/>
<line x1="259.63" y1="424.00" x2="259.63" y2="703.60"/>
<line x1="285.68" y1="424.00" x2="285.68" y2="703.60"/>
<line x1="311.73" y1="424.00" x2="311.73" y2="703.60"/>
<line x1="337.78" y1="424.00" x2="337.78" y2="703.60"/>
<line x1="363.82" y1="424.00" x2="363.82" y2="703.60"/>
<line x1="389.87" y1="424.00" x2="389.87" y2="703.60"/>
<line x1="415.92" y1="424.00" x2="415.92" y2="703.60"/>
<line x1="441.97" y1="424.00" x2="441.97" y2="703.60"/>
<line x1="468.01" y1="424.00" x2="468.01" y2="703.60"/>
<line x1="494.06" y1="424.00" x2="494.06" y2="703.60"/>
<line x1="520.11" y1="424.00" x2="520.11" y2="703.60"/>
<line x1="546.16" y1="424.00" x2="546.16" y2="703.60"/>
<line x1="572.20" y1="424.00" x2="572.20" y2="703.60"/>
<line x1="598.25" y1="424.00" x2="598.25" y2="703.60"/>
<text class="st" x="142.42" y="444.13">*</text>
<text class="st" x="168.47" y="444.13">*</text>
<text class="st" x="220.56" y="444.13">*</text>
<text class="st" x="376.85" y="444.13">*</text>
<text class="st" x="428.94" y="444.13">*</text>
<text class="st" x="454.99" y="444.13">*</text>
<text class="st" x="507.09" y="444.13">*</text>
<text class="st" x="533.13" y="444.13">*</text>
<text class="st" x="559.18" y="444.13">*</text>
<text class="st" x="90.32" y="475.20">*</text>
<text class="st" x="116.37" y="475.20">*</text>
<text class="st" x="142.42" y="475.20">*</text>
<text class="st" x="220.56" y="475.20">*</text>
<text class="st" x="246.61" y="475.20">*</text>
<text class="st" x="376.85" y="475.20">*</text>
<text class="st" x="428.94" y="475.20">*</text>
<text class="st" x="454.99" y="475.20">*</text>
<text class="st" x="481.04" y="475.20">*</text>
<text class="st" x="507.09" y="475.20">*</text>
<text class="st" x="533.13" y="475.20">*</text>
<text class="st" x="559.18" y="475.20">*</text>
<text class="st" x="611.28" y="475.20">*</text>
<text class="st" x="194.51" y="506.27">*</text>
<text class="st" x="220.56" y="506.27">*</text>
<text class="st" x="246.61" y="506.27">*</text>
<text class="st" x="324.75" y="506.27">*</text>
<text class="st" x="376.85" y="506.27">*</text>
<text class="st" x="402.90" y="506.27">*</text>
<text class="st" x="454.99" y="506.27">*</text>
<text class="st" x="481.04" y="506.27">*</text>
<text class="st" x="533.13" y="506.27">*</text>
<text class="st" x="559.18" y="506.27">*</text>
<text class="st" x="90.32" y="537.33">*</text>
<text class="st" x="142.42" y="537.33">*</text>
<text class="st" x="168.47" y="537.33">*</text>
<text class="st" x="246.61" y="537.33">*</text>
<text class="st" x="272.66" y="537.33">*</text>
<text class="st" x="298.70" y="537.33">*</text>
<text class="st" x="350.80" y="537.33">*</text>
<text class="st" x="402.90" y="537.33">*</text>
<text class="st" x="454.99" y="537.33">*</text>
<text class="st" x="481.04" y="537.33">*</text>
<text class="st" x="507.09" y="537.33">*</text>
<text class="st" x="585.23" y="537.33">*</text>
<text class="st" x="116.37" y="568.40">*</text>
<text class="st" x="168.47" y="568.40">*</text>
<text class="st" x="194.51" y="568.40">*</text>
<text class="st" x="220.56" y="568.40">*</text>
<text class="st" x="324.75" y="568.40">*</text>
<text class="st" x="376.85" y="568.40">*</text>
<text class="st" x="428.94" y="568.40">*</text>
<text class="st" x="454.99" y="568.40">*</text>
<text class="st" x="507.09" y="568.40">*</text>
<text class="st" x="559.18" y="568.40">*</text>
<text class="st" x="90.32" y="599.47">*</text>
<text class="st" x="142.42" y="599.47">*</text>
<text class="st" x="168.47" y="599.47">*</text>
<text class="st" x="194.51" y="599.47">*</text>
<text class="st" x="220.56" y="599.47">*</text>
<text class="st" x="272.66" y="599.47">*</text>
<text class="st" x="298.70" y="599.47">*</text>
<text class="st" x="402.90" y="599.47">*</text>
<text class="st" x="428.94" y="599.47">*</text>
<text class="st" x="507.09" y="599.47">*</text>
<text class="st" x="585.23" y="599.47">*</text>
<text class="st" x="194.51" y="630.53">*</text>
<text class="st" x="220.56" y="630.53">*</text>
<text class="st" x="246.61" y="630.53">*</text>
<text class="st" x="298.70" y="630.53">*</text>
<text class="st" x="324.75" y="630.53">*</text>
<text class="st" x="350.80" y="630.53">*</text>
<text class="st" x="376.85" y="630.53">*</text>
<text class="st" x="402.90" y="630.53">*</text>
<text class="st" x="428.94" y="630.53">*</text>
<text class="st" x="454.99" y="630.53">*</text>
<text class="st" x="481.04" y="630.53">*</text>
<text class="st" x="533.13" y="630.53">*</text>
<text class="st" x="559.18" y="630.53">*</text>
<text class="st" x="611.28" y="630.53">*</text>
<text class="st" x="90.32" y="661.60">*</text>
<text class="st" x="194.51" y="661.60">*</text>
<text class="st" x="272.66" y="661.60">*</text>
<text class="st" x="298.70" y="661.60">*</text>
<text class="st" x="350.80" y="661.60">*</text>
<text class="st" x="428.94" y="661.60">*</text>
<text class="st" x="481.04" y="661.60">*</text>
<text class="st" x="507.09" y="661.60">*</text>
<text class="st" x="90.32" y="692.67">*</text>
<text class="st" x="168.47" y="692.67">*</text>
<text class="st" x="194.51" y="692.67">*</text>
<text class="st" x="220.56" y="692.67">*</text>
<text class="st" x="246.61" y="692.67">*</text>
<text class="st" x="298.70" y="692.67">*</text>
<text class="st" x="454.99" y="692.67">*</text>
<text class="st" x="481.04" y="692.67">*</text>
<text class="rl" x="71.4" y="444.23">AP1S3</text>
<text class="rl" x="71.4" y="475.30">BTK</text>
<text class="rl" x="71.4" y="506.37">FUCA1</text>
<text class="rl" x="71.4" y="537.43">TMEM106B</text>
<text class="rl" x="71.4" y="568.50">PTGDR</text>
<text class="rl" x="71.4" y="599.57">UNC13D</text>
<text class="rl" x="71.4" y="630.63">CTSG</text>
<text class="rl" x="71.4" y="661.70">NDEL1</text>
<text class="rl" x="71.4" y="692.77">AP1S1</text>
<text class="cl" transform="translate(97.02,715.60) rotate(-45)">B cells naive</text>
<text class="cl" transform="translate(123.07,715.60) rotate(-45)">B cells memory</text>
<text class="cl" transform="translate(149.12,715.60) rotate(-45)">Plasma cells</text>
<text class="cl" transform="translate(175.17,715.60) rotate(-45)">T cells CD8</text>
<text class="cl" transform="translate(201.21,715.60) rotate(-45)">T cells CD4 memory resting</text>
<text class="cl" transform="translate(227.26,715.60) rotate(-45)">T cells CD4 memory activated</text>
<text class="cl" transform="translate(253.31,715.60) rotate(-45)">T cells follicular helper</text>
<text class="cl" transform="translate(279.36,715.60) rotate(-45)">T cells regulatory Tregs</text>
<text class="cl" transform="translate(305.40,715.60) rotate(-45)">T cells gamma delta</text>
<text class="cl" transform="translate(331.45,715.60) rotate(-45)">NK cells resting</text>
<text class="cl" transform="translate(357.50,715.60) rotate(-45)">NK cells activated</text>
<text class="cl" transform="translate(383.55,715.60) rotate(-45)">Monocytes</text>
<text class="cl" transform="translate(409.60,715.60) rotate(-45)">Macrophages M0</text>
<text class="cl" transform="translate(435.64,715.60) rotate(-45)">Macrophages M1</text>
<text class="cl" transform="translate(461.69,715.60) rotate(-45)">Macrophages M2</text>
<text class="cl" transform="translate(487.74,715.60) rotate(-45)">Dendritic cells resting</text>
<text class="cl" transform="translate(513.79,715.60) rotate(-45)">Dendritic cells activated</text>
<text class="cl" transform="translate(539.83,715.60) rotate(-45)">Mast cells resting</text>
<text class="cl" transform="translate(565.88,715.60) rotate(-45)">Mast cells activated</text>
<text class="cl" transform="translate(591.93,715.60) rotate(-45)">Eosinophils</text>
<text class="cl" transform="translate(617.98,715.60) rotate(-45)">Neutrophils</text>
<text class="pl" transform="translate(1.2,443.9) scale(1,1.0)" style="font-size:33.6px">B</text>
<text class="lg" x="631.0" y="508.80">* p &lt; 0.05</text>
<text class="lg" x="634.0" y="535.80">Cor</text>
<rect x="631.2" y="541.10" width="17.7" height="86.6" fill="url(#cb)"/>
<text class="lg" x="655.8" y="546.00">1.0</text>
<line class="tk" x1="631.2" y1="541.10" x2="634.7" y2="541.10"/>
<line class="tk" x1="645.4000000000001" y1="541.10" x2="648.9000000000001" y2="541.10"/>
<text class="lg" x="655.8" y="567.65">0.5</text>
<line class="tk" x1="631.2" y1="562.75" x2="634.7" y2="562.75"/>
<line class="tk" x1="645.4000000000001" y1="562.75" x2="648.9000000000001" y2="562.75"/>
<text class="lg" x="655.8" y="589.30">0.0</text>
<line class="tk" x1="631.2" y1="584.40" x2="634.7" y2="584.40"/>
<line class="tk" x1="645.4000000000001" y1="584.40" x2="648.9000000000001" y2="584.40"/>
<text class="lg" x="655.8" y="610.95">−0.5</text>
<line class="tk" x1="631.2" y1="606.05" x2="634.7" y2="606.05"/>
<line class="tk" x1="645.4000000000001" y1="606.05" x2="648.9000000000001" y2="606.05"/>
<text class="lg" x="655.8" y="632.60">−1.0</text>
<line class="tk" x1="631.2" y1="627.70" x2="634.7" y2="627.70"/>
<line class="tk" x1="645.4000000000001" y1="627.70" x2="648.9000000000001" y2="627.70"/>
<rect x="77.40" y="844.60" width="182.17" height="43.69" fill="#eaeef0"/>
<rect x="259.57" y="844.60" width="182.17" height="43.69" fill="#eef1f2"/>
<rect x="441.73" y="844.60" width="182.17" height="43.69" fill="#eceff1"/>
<rect x="77.40" y="888.29" width="182.17" height="43.69" fill="#8c5193"/>
<rect x="259.57" y="888.29" width="182.17" height="43.69" fill="#6c1d79"/>
<rect x="441.73" y="888.29" width="182.17" height="43.69" fill="#702580"/>
<rect x="77.40" y="931.98" width="182.17" height="43.69" fill="#dfcbdf"/>
<rect x="259.57" y="931.98" width="182.17" height="43.69" fill="#c9a6ca"/>
<rect x="441.73" y="931.98" width="182.17" height="43.69" fill="#d3b5d3"/>
<rect x="77.40" y="975.67" width="182.17" height="43.69" fill="#eedfed"/>
<rect x="259.57" y="975.67" width="182.17" height="43.69" fill="#eff2f3"/>
<rect x="441.73" y="975.67" width="182.17" height="43.69" fill="#fbf8fb"/>
<rect x="77.40" y="1019.36" width="182.17" height="43.69" fill="#a675ac"/>
<rect x="259.57" y="1019.36" width="182.17" height="43.69" fill="#8e5a9c"/>
<rect x="441.73" y="1019.36" width="182.17" height="43.69" fill="#8f5b9c"/>
<rect x="77.40" y="1063.04" width="182.17" height="43.69" fill="#dcc6dc"/>
<rect x="259.57" y="1063.04" width="182.17" height="43.69" fill="#c29ec8"/>
<rect x="441.73" y="1063.04" width="182.17" height="43.69" fill="#cba9cd"/>
<rect x="77.40" y="1106.73" width="182.17" height="43.69" fill="#c29cc6"/>
<rect x="259.57" y="1106.73" width="182.17" height="43.69" fill="#c29fc8"/>
<rect x="441.73" y="1106.73" width="182.17" height="43.69" fill="#bc96c2"/>
<rect x="77.40" y="1150.42" width="182.17" height="43.69" fill="#f3e6f1"/>
<rect x="259.57" y="1150.42" width="182.17" height="43.69" fill="#f8f9fb"/>
<rect x="441.73" y="1150.42" width="182.17" height="43.69" fill="#f9f6f9"/>
<rect x="77.40" y="1194.11" width="182.17" height="43.69" fill="#cbd8de"/>
<rect x="259.57" y="1194.11" width="182.17" height="43.69" fill="#e6ebed"/>
<rect x="441.73" y="1194.11" width="182.17" height="43.69" fill="#d4e0e4"/>
<line class="top" x1="77.40" y1="844.60" x2="623.90" y2="844.60"/>
<line x1="77.40" y1="888.29" x2="623.90" y2="888.29"/>
<line x1="77.40" y1="931.98" x2="623.90" y2="931.98"/>
<line x1="77.40" y1="975.67" x2="623.90" y2="975.67"/>
<line x1="77.40" y1="1019.36" x2="623.90" y2="1019.36"/>
<line x1="77.40" y1="1063.04" x2="623.90" y2="1063.04"/>
<line x1="77.40" y1="1106.73" x2="623.90" y2="1106.73"/>
<line x1="77.40" y1="1150.42" x2="623.90" y2="1150.42"/>
<line x1="77.40" y1="1194.11" x2="623.90" y2="1194.11"/>
<line class="top" x1="77.40" y1="1237.80" x2="623.90" y2="1237.80"/>
<line class="top" x1="77.40" y1="844.60" x2="77.40" y2="1237.80"/>
<line x1="259.57" y1="844.60" x2="259.57" y2="1237.80"/>
<line x1="441.73" y1="844.60" x2="441.73" y2="1237.80"/>
<text class="st" x="168.48" y="914.93">*</text>
<text class="st" x="350.65" y="914.93">*</text>
<text class="st" x="532.82" y="914.93">*</text>
<text class="st" x="168.48" y="958.62">*</text>
<text class="st" x="350.65" y="958.62">*</text>
<text class="st" x="532.82" y="958.62">*</text>
<text class="st" x="168.48" y="1002.31">*</text>
<text class="st" x="168.48" y="1046.00">*</text>
<text class="st" x="350.65" y="1046.00">*</text>
<text class="st" x="532.82" y="1046.00">*</text>
<text class="st" x="168.48" y="1089.69">*</text>
<text class="st" x="350.65" y="1089.69">*</text>
<text class="st" x="532.82" y="1089.69">*</text>
<text class="st" x="168.48" y="1133.38">*</text>
<text class="st" x="350.65" y="1133.38">*</text>
<text class="st" x="532.82" y="1133.38">*</text>
<text class="st" x="168.48" y="1177.07">*</text>
<text class="st" x="168.48" y="1220.76">*</text>
<text class="st" x="350.65" y="1220.76">*</text>
<text class="st" x="532.82" y="1220.76">*</text>
<text class="rl" x="71.4" y="871.14">AP1S3</text>
<text class="rl" x="71.4" y="914.83">BTK</text>
<text class="rl" x="71.4" y="958.52">FUCA1</text>
<text class="rl" x="71.4" y="1002.21">TMEM106B</text>
<text class="rl" x="71.4" y="1045.90">PTGDR</text>
<text class="rl" x="71.4" y="1089.59">UNC13D</text>
<text class="rl" x="71.4" y="1133.28">CTSG</text>
<text class="rl" x="71.4" y="1176.97">NDEL1</text>
<text class="rl" x="71.4" y="1220.66">AP1S1</text>
<text class="cc" x="168.48" y="1253.50">StromalScore</text>
<text class="cc" x="350.65" y="1253.50">ImmuneScore</text>
<text class="cc" x="532.82" y="1253.50">ESTIMATEScore</text>
<text class="pl" transform="translate(1.0,871.4) scale(1,1.05)" style="font-size:36.5px">C</text>
<text class="lg" x="631.0" y="987.10">* p &lt; 0.05</text>
<text class="lg" x="634.0" y="1014.10">Cor</text>
<rect x="631.2" y="1018.50" width="17.7" height="86.6" fill="url(#cb)"/>
<text class="lg" x="655.8" y="1023.40">1.0</text>
<line class="tk" x1="631.2" y1="1018.50" x2="634.7" y2="1018.50"/>
<line class="tk" x1="645.4000000000001" y1="1018.50" x2="648.9000000000001" y2="1018.50"/>
<text class="lg" x="655.8" y="1045.05">0.5</text>
<line class="tk" x1="631.2" y1="1040.15" x2="634.7" y2="1040.15"/>
<line class="tk" x1="645.4000000000001" y1="1040.15" x2="648.9000000000001" y2="1040.15"/>
<text class="lg" x="655.8" y="1066.70">0.0</text>
<line class="tk" x1="631.2" y1="1061.80" x2="634.7" y2="1061.80"/>
<line class="tk" x1="645.4000000000001" y1="1061.80" x2="648.9000000000001" y2="1061.80"/>
<text class="lg" x="655.8" y="1088.35">−0.5</text>
<line class="tk" x1="631.2" y1="1083.45" x2="634.7" y2="1083.45"/>
<line class="tk" x1="645.4000000000001" y1="1083.45" x2="648.9000000000001" y2="1083.45"/>
<text class="lg" x="655.8" y="1110.00">−1.0</text>
<line class="tk" x1="631.2" y1="1105.10" x2="634.7" y2="1105.10"/>
<line class="tk" x1="645.4000000000001" y1="1105.10" x2="648.9000000000001" y2="1105.10"/>
</svg>
</body></html>
